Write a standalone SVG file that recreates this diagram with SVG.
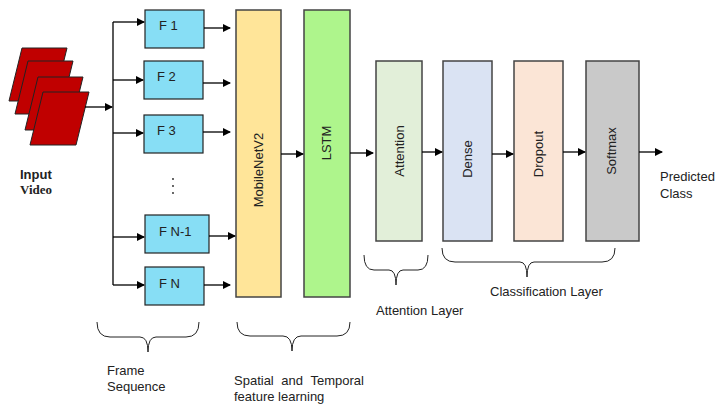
<svg xmlns="http://www.w3.org/2000/svg" width="723" height="412" viewBox="0 0 723 412">
<style>
text{font-family:"Liberation Sans",Arial,sans-serif;font-size:13px;fill:#222}
.f{fill:#87def5;stroke:#222;stroke-width:1.2}
.b{stroke:#444;stroke-width:1.5}
.ln{stroke:#000;stroke-width:1.3;fill:none}
.br{stroke:#222;stroke-width:1;fill:none}
.vid{fill:#c00000;stroke:#222;stroke-width:1}
</style>
<defs><marker id="a" markerWidth="8" markerHeight="8" refX="7" refY="4" orient="auto" markerUnits="userSpaceOnUse"><path d="M0,0L8,4L0,8z" fill="#000"/></marker></defs>
<g id="video">
<polygon class="vid" points="22,48 67,48 54,101 9,101"/>
<polygon class="vid" points="28,61 73,61 60,114 15,114"/>
<polygon class="vid" points="38,77 83,77 70,130 25,130"/>
<polygon class="vid" points="43,92 89,92 76,145 30,145"/>
<text x="20" y="179" font-weight="bold">Input</text>
<text x="20" y="194" font-weight="bold" style="font-family:'Liberation Serif',serif">Video</text>
</g>
<g id="frames">
<rect class="f" x="145" y="10" width="59" height="38"/><text x="159" y="30">F 1</text>
<rect class="f" x="144" y="61" width="59" height="38"/><text x="157" y="81">F 2</text>
<rect class="f" x="144" y="115" width="59" height="38"/><text x="157" y="135">F 3</text>
<circle cx="173" cy="179" r="0.9" fill="#222"/><circle cx="173" cy="186" r="0.9" fill="#222"/><circle cx="173" cy="193" r="0.9" fill="#222"/>
<rect class="f" x="145" y="215" width="64" height="38"/><text x="159" y="236">F N-1</text>
<rect class="f" x="145" y="267" width="59" height="38"/><text x="159" y="288">F N</text>
</g>
<g id="mobilenet"><rect class="b" x="236" y="10" width="45" height="287" fill="#ffe599"/><text transform="translate(263,170) rotate(-90)" text-anchor="middle">MobileNetV2</text></g>
<g id="lstm"><rect class="b" x="304" y="10" width="46" height="287" fill="#aef58c"/><text transform="translate(331,143) rotate(-90)" text-anchor="middle">LSTM</text></g>
<g id="attention"><rect class="b" x="376" y="61" width="46" height="180" fill="#e2efd9"/><text transform="translate(404,151) rotate(-90)" text-anchor="middle">Attention</text></g>
<g id="dense"><rect class="b" x="443" y="61" width="49" height="180" fill="#dae3f3"/><text transform="translate(472,159) rotate(-90)" text-anchor="middle">Dense</text></g>
<g id="dropout"><rect class="b" x="514" y="61" width="49" height="180" fill="#fbe5d6"/><text transform="translate(543,154) rotate(-90)" text-anchor="middle">Dropout</text></g>
<g id="softmax"><rect class="b" x="586" y="61" width="53" height="180" fill="#c9c9c9"/><text transform="translate(616,151) rotate(-90)" text-anchor="middle">Softmax</text></g>
<g id="connectors">
<path class="ln" d="M85,107H112" marker-end="url(#a)"/>
<path class="ln" d="M113,22V285"/>
<path class="ln" d="M113,22H144" marker-end="url(#a)"/>
<path class="ln" d="M113,80H143" marker-end="url(#a)"/>
<path class="ln" d="M113,133H143" marker-end="url(#a)"/>
<path class="ln" d="M113,237H144" marker-end="url(#a)"/>
<path class="ln" d="M113,285H144" marker-end="url(#a)"/>
<path class="ln" d="M204,28H230" marker-end="url(#a)"/>
<path class="ln" d="M203,83H230" marker-end="url(#a)"/>
<path class="ln" d="M203,132H230" marker-end="url(#a)"/>
<path class="ln" d="M209,236H235" marker-end="url(#a)"/>
<path class="ln" d="M204,285H230" marker-end="url(#a)"/>
<path class="ln" d="M281,154H303" marker-end="url(#a)"/>
<path class="ln" d="M350,153H373" marker-end="url(#a)"/>
<path class="ln" d="M422,152H442" marker-end="url(#a)"/>
<path class="ln" d="M492,154H513" marker-end="url(#a)"/>
<path class="ln" d="M563,152H585" marker-end="url(#a)"/>
<path class="ln" d="M639,152H662" marker-end="url(#a)"/>
</g>
<g id="braces">
<path class="br" d="M97,322Q97,337 110,337H140Q148,337 148,352Q148,337 156,337H186Q199,337 199,322"/>
<path class="br" d="M237,322Q237,336 250,336H283Q292,336 292,351Q292,336 301,336H337Q350,336 350,322"/>
<path class="br" d="M364,255Q364,270 374,270H389Q396,270 396,285Q396,270 403,270H418Q428,270 428,255"/>
<path class="br" d="M442,248Q442,262 455,262H520Q527,262 527,277Q527,262 534,262H602Q615,262 615,248"/>
</g>
<g id="labels">
<text x="107" y="375">Frame</text><text x="107" y="391">Sequence</text>
<text x="234" y="385" style="word-spacing:4px">Spatial and Temporal</text><text x="234" y="401">feature learning</text>
<text x="376" y="315">Attention Layer</text>
<text x="490" y="296">Classification Layer</text>
<text x="660" y="181">Predicted</text><text x="660" y="198">Class</text>
</g>
</svg>
